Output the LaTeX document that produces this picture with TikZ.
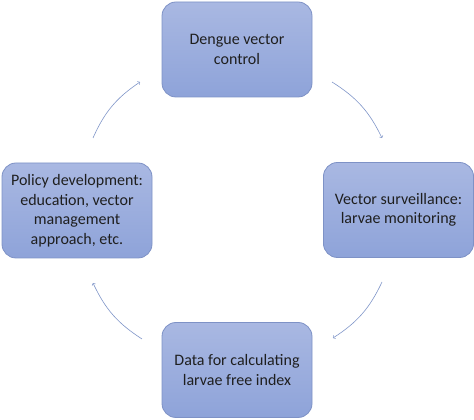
\documentclass[tikz,border=0pt]{standalone}
\usepackage{fontspec}
\setmainfont{Carlito}
\usepackage{tikz}
\usepackage{xcolor}
\definecolor{boxtop}{HTML}{A9B8E2}
\definecolor{boxbot}{HTML}{8EA3D9}
\definecolor{boxline}{HTML}{7E92C6}
\definecolor{arrowline}{HTML}{7F95C8}
\begin{document}
\begin{tikzpicture}[x=1pt,y=1pt,
        stagebox/.style={draw=boxline,line width=0.8pt,rounded corners=14pt,top color=boxtop,bottom color=boxbot,
            minimum width=150pt,minimum height=95pt,align=center,font=\fontsize{16}{19.5}\selectfont,text=black!88},
        cyclearrow/.style={draw=arrowline,line width=0.6pt,-to}]
            \useasboundingbox (0,0) rectangle (474,420);
            \node[stagebox] (control) at (237,370.5) {Dengue vector\\control};
            \node[stagebox] (surveil) at (398.5,210) {Vector surveillance:\\larvae monitoring};
            \node[stagebox] (data) at (237,50) {Data for calculating\\larvae free index};
            \node[stagebox] (policy) at (77,209.5) {Policy development:\\education, vector\\management\\approach, etc.};
            \coordinate (a1s) at (332,338); \coordinate (a1e) at (382,282);
            \coordinate (a2s) at (382,138); \coordinate (a2e) at (333,82);
            \coordinate (a3s) at (142,81);  \coordinate (a3e) at (93,137);
            \coordinate (a4s) at (93,282);  \coordinate (a4e) at (140,338);
            \draw[cyclearrow] (a1s) to[bend left=16] (a1e);
            \draw[cyclearrow] (a2s) to[bend left=16] (a2e);
            \draw[cyclearrow] (a3s) to[bend left=16] (a3e);
            \draw[cyclearrow] (a4s) to[bend left=16] (a4e);
        \end{tikzpicture}
\end{document}
